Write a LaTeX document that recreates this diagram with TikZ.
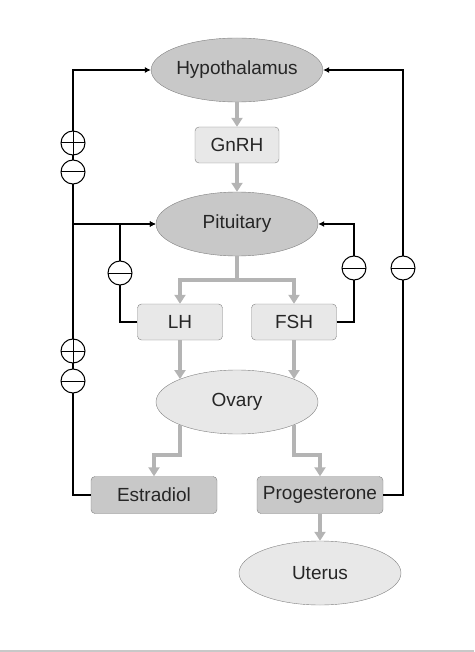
\documentclass[tikz,border=0pt]{standalone}
\usepackage{fontspec}
\setmainfont{Liberation Sans}
\usetikzlibrary{arrows.meta,shapes.geometric}
\definecolor{flowgray}{HTML}{B4B4B4}
\definecolor{darkfill}{HTML}{C8C8C8}
\definecolor{lightfill}{HTML}{E8E8E8}
\definecolor{edgegray}{HTML}{808080}
\begin{document}
\begin{tikzpicture}[x=1pt, y=-1pt,
		font=\fontsize{19}{22}\selectfont, text=black!85,
		organ/.style={ellipse, draw=edgegray, minimum width=162, minimum height=64, inner sep=0pt},
		hormone/.style={rectangle, rounded corners=4pt, draw=edgegray, fill=lightfill, minimum height=36, inner sep=0pt},
		flow/.style={draw=flowgray, line width=4pt, -{Triangle[width=11pt,length=9pt]}},
		fb/.style={draw=black, line width=1.3pt, -{Latex[length=6pt,width=6pt]}},
		sminus/.style={circle, draw=black, line width=1pt, fill=white, minimum size=24, inner sep=0pt,
			path picture={\draw[line width=1pt] (path picture bounding box.west) -- (path picture bounding box.east);}},
		splus/.style={sminus,
			path picture={\draw[line width=1pt] (path picture bounding box.west) -- (path picture bounding box.east)
				(path picture bounding box.north) -- (path picture bounding box.south);}}]
	\useasboundingbox (0,0) rectangle (474,652);
	\draw[draw=darkfill, line width=2pt] (0,651) -- (474,651);

	% organs and hormones
	\node[organ, fill=darkfill] (hyp) at (237,70) {Hypothalamus};
	\node[hormone, minimum width=84] (gnrh) at (237,145) {GnRH};
	\node[organ, fill=darkfill] (pit) at (237,224) {Pituitary};
	\node[hormone, minimum width=85] (lh) at (180,322) {LH};
	\node[hormone, minimum width=85] (fsh) at (294,322) {FSH};
	\node[organ, fill=lightfill] (ov) at (237,402) {Ovary};
	\node[hormone, fill=darkfill, minimum width=126, minimum height=37] (estr) at (154,495) {Estradiol};
	\node[hormone, fill=darkfill, minimum width=126, minimum height=37] (prog) at (320,495) {Progesterone};
	\node[organ, fill=lightfill] (ut) at (320,573) {Uterus};

	% junctions
	\coordinate (split) at (237,280);
	\coordinate (jctE) at (180,455);
	\coordinate (jctP) at (294,455);
	\coordinate (outerL) at (73,0);
	\coordinate (innerL) at (120,0);
	\coordinate (innerR) at (354,0);
	\coordinate (outerR) at (403,0);
	\path (ov.158) coordinate (ovTL) (ov.22) coordinate (ovTR)
		(ov.202) coordinate (ovBL) (ov.338) coordinate (ovBR);

	% main cascade
	\draw[flow] (hyp.south) -- (gnrh.north);
	\draw[flow] (gnrh.south) -- (pit.north);
	\draw[flow] (pit.south) -- (split) -| (lh.north);
	\draw[flow] (pit.south) -- (split) -| (fsh.north);
	\draw[flow] (lh.south) -- (lh.south |- ovTL);
	\draw[flow] (fsh.south) -- (fsh.south |- ovTR);
	\draw[flow] (jctE |- ovBL) -- (jctE) -| (estr.north);
	\draw[flow] (jctP |- ovBR) -- (jctP) -| (prog.north);
	\draw[flow] (prog.south) -- (ut.north);

	% feedback loops
	\draw[fb] (estr.west) -| (outerL |- hyp.west) -- (hyp.west);
	\draw[fb] (outerL |- pit.west) -- (pit.west);
	\draw[fb] (lh.west) -| (innerL |- pit.west) -- (pit.west);
	\draw[fb] (fsh.east) -| (innerR |- pit.east) -- (pit.east);
	\draw[fb] (prog.east) -| (outerR |- hyp.east) -- (hyp.east);

	% signs
	\node[splus] (up1) at (73,143) {};
	\node[sminus] (dn1) at (73,172) {};
	\node[splus] (up2) at (73,351) {};
	\node[sminus] (dn2) at (73,381) {};
	\node[sminus] (dnLH) at (120,273) {};
	\node[sminus] (dnFSH) at (354,268) {};
	\node[sminus] (dnP) at (403,268) {};
\end{tikzpicture}
\end{document}
